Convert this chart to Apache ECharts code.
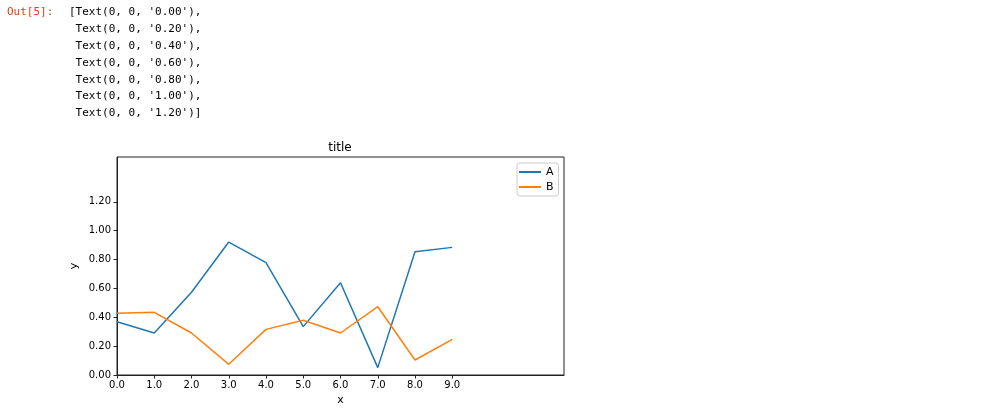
<!DOCTYPE html>
<html><head><meta charset="utf-8">
<script src="https://cdn.jsdelivr.net/npm/echarts@6/dist/echarts.min.js"></script>
<style>html,body{margin:0;padding:0;background:#fff}#c{width:998px;height:416px}</style>
</head><body><div id="c"></div>
<script>
const xValues = [0,1,2,3,4,5,6,7,8,9];
const seriesA = [0.369,0.291,0.573,0.921,0.778,0.335,0.639,0.051,0.854,0.884];
const seriesB = [0.427,0.434,0.291,0.074,0.316,0.379,0.291,0.473,0.104,0.247];
const yTicks = [0,0.2,0.4,0.6,0.8,1.0,1.2];
const outLines = [
  "[Text(0, 0, '0.00'),",
  " Text(0, 0, '0.20'),",
  " Text(0, 0, '0.40'),",
  " Text(0, 0, '0.60'),",
  " Text(0, 0, '0.80'),",
  " Text(0, 0, '1.00'),",
  " Text(0, 0, '1.20')]"
];
const mono = "'DejaVu Sans Mono', 'Liberation Mono', monospace";
const sans = "'DejaVu Sans', sans-serif";
const graphics = [
  {type:'text', left:7, top:7, style:{text:'Out[5]:', font:'11px '+mono, fill:'#d84315'}},
  {type:'text', x:340, y:148, style:{text:'title', font:'12px '+sans, fill:'#000', textAlign:'center', textVerticalAlign:'middle'}}
];
outLines.forEach((t,i)=>graphics.push({type:'text', left:69, top:7+i*16.8, style:{text:t.replace(/ /g,'\u00a0'), font:'11px '+mono, fill:'#000'}}));
const chart = echarts.init(document.getElementById('c'));
chart.setOption({
  animation:false,
  textStyle:{fontFamily:sans},
  graphic: graphics,
  grid:{left:117, top:157, width:447, height:218, show:true, borderColor:'#222', borderWidth:1, backgroundColor:'transparent'},
  legend:{orient:'vertical', left:517, top:163, padding:[3,5,3,2], itemGap:3, itemWidth:22, itemHeight:2,
    borderColor:'#ccc', borderWidth:1, borderRadius:3, backgroundColor:'#fff',
    textStyle:{fontSize:11, color:'#000', lineHeight:12, fontFamily:sans},
    data:[{name:'A', icon:'rect'},{name:'B', icon:'rect'}]},
  xAxis:{type:'value', min:0, max:12, name:'x', nameLocation:'middle', nameGap:20,
    nameTextStyle:{fontSize:11, color:'#000', fontFamily:sans},
    axisLine:{lineStyle:{color:'#222'}},
    axisTick:{customValues:xValues, length:3.5, lineStyle:{color:'#222'}},
    axisLabel:{customValues:xValues, formatter:v=>v.toFixed(1), fontSize:10, color:'#000', margin:5, fontFamily:sans},
    splitLine:{show:false}},
  yAxis:{type:'value', min:0, max:1.51, name:'y', nameLocation:'middle', nameGap:37,
    nameTextStyle:{fontSize:11, color:'#000', fontFamily:sans},
    axisLine:{show:true, lineStyle:{color:'#222'}},
    axisTick:{show:true, customValues:yTicks, length:3.5, lineStyle:{color:'#222'}},
    axisLabel:{customValues:yTicks, formatter:v=>v.toFixed(2), fontSize:10, color:'#000', margin:6, fontFamily:sans},
    splitLine:{show:false}},
  series:[
    {name:'A', type:'line', data:xValues.map((x,i)=>[x,seriesA[i]]), showSymbol:false, color:'#1f77b4', lineStyle:{width:1.5}},
    {name:'B', type:'line', data:xValues.map((x,i)=>[x,seriesB[i]]), showSymbol:false, color:'#ff7f0e', lineStyle:{width:1.5}}
  ]
});
</script></body></html>
